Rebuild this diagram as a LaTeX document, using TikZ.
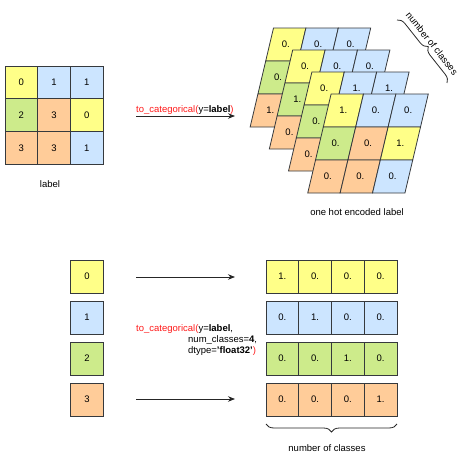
\documentclass[tikz,border=0pt]{standalone}
\usepackage{fontspec}
\setmainfont{Liberation Sans}
\usetikzlibrary{arrows.meta, positioning, decorations.pathreplacing}
\definecolor{cyel}{HTML}{FFFF88}
\definecolor{cblu}{HTML}{CCE5FF}
\definecolor{cgrn}{HTML}{CDEB8B}
\definecolor{corg}{HTML}{FFCC99}
\definecolor{cline}{HTML}{36393D}
\definecolor{cred}{HTML}{FF1A1A}

\begin{document}
\begin{tikzpicture}[
    x=1pt, y=-1pt,
    font=\fontsize{9.5}{11}\selectfont,
    cell/.style={rectangle, draw=cline, line width=0.8pt, minimum width=32.7pt, minimum height=33pt, inner sep=0pt},
    slantcell/.style={draw=cline, line width=0.8pt},
    arrow/.style={-{Stealth[length=7pt, width=5.5pt]}, line width=0.8pt, draw=black!85},
    brace/.style={decorate, decoration={brace, amplitude=8pt}, line width=0.8pt, draw=black!85}
]
\useasboundingbox (0,0) rectangle (474,463);

% label grid
\foreach \row [count=\r from 0] in {{0/cyel,1/cblu,1/cblu},{2/cgrn,3/corg,0/cyel},{3/corg,3/corg,1/cblu}} {
  \foreach \v/\c [count=\k from 0] in \row {
    \node[cell, fill=\c] (g\r\k) at ({21.35+32.7*\k},{82.5+32.7*\r}) {\v};
  }
}
\node (lbl) at (50,184) {label};

% first call
\coordinate (a1s) at (136,116);
\coordinate (a1e) at (235,116);
\draw[arrow] (a1s) -- (a1e);
\node[above=1pt of a1s, anchor=south west, inner sep=0pt] (cat) {\textcolor{cred}{to\_categorical(}y=\textbf{label}\textcolor{cred}{)}};

% one hot stack, back layer = class 3
\foreach \L in {0,...,3} {
  \pgfmathtruncatemacro\cls{3-\L}
  \begin{scope}[shift={({273.5+19.2*\L},{28+22*\L})}, xslant=0.236]
    \foreach \row [count=\r from 0] in {{0/cyel,1/cblu,1/cblu},{2/cgrn,3/corg,0/cyel},{3/corg,3/corg,1/cblu}} {
      \foreach \v/\c [count=\k from 0] in \row {
        \draw[slantcell, fill=\c] ({32.4*\k},{33*\r}) rectangle ++(32.4,33);
        \node (h\L\r\k) at ({32.4*\k+16.2},{33*\r+16.5}) {\ifnum\v=\cls\relax 1.\else 0.\fi};
      }
    }
  \end{scope}
}
\node (ohe) at (357,212) {one hot encoded label};
\coordinate (b1s) at (397,20);
\coordinate (b1e) at (447,83);
\draw[brace] (b1s) -- node[midway, sloped, above=9pt, inner sep=0pt] (ncls1) {number of classes} (b1e);

% single labels and rows
\foreach \v/\c [count=\r from 0] in {0/cyel,1/cblu,2/cgrn,3/corg} {
  \node[cell, fill=\c] (s\r) at (87,{276.5+41*\r}) {\v};
  \foreach \k in {0,...,3} {
    \node[cell, fill=\c] (o\r\k) at ({282.4+32.75*\k},{276.5+41*\r}) {\ifnum\k=\r\relax 1.\else 0.\fi};
  }
}

% second call
\coordinate (a2s) at (136,277);
\coordinate (a2e) at (235,277);
\coordinate (a3s) at (136,399);
\coordinate (a3e) at (235,399);
\draw[arrow] (a2s) -- (a2e);
\draw[arrow] (a3s) -- (a3e);
\node[anchor=west, inner sep=0pt] (catA) at (136,329) {\textcolor{cred}{to\_categorical(}y=\textbf{label},};
\node[anchor=west, inner sep=0pt] (catB) at (188,340) {num\_classes=\textbf{4},};
\node[anchor=west, inner sep=0pt] (catC) at (188,351) {dtype=\textbf{'float32'}\textcolor{cred}{)}};

\coordinate (b2s) at (397,424);
\coordinate (b2e) at (266,424);
\draw[brace] (b2s) -- (b2e);
\node (ncls2) at (327,448) {number of classes};
\end{tikzpicture}
\end{document}
